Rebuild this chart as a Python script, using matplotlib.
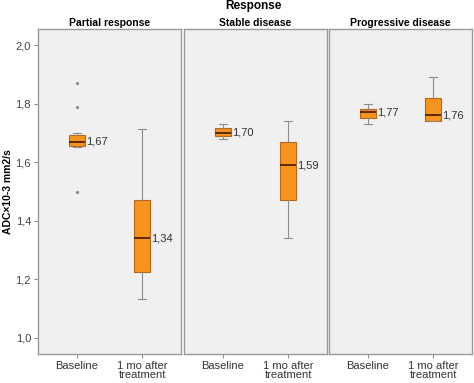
import matplotlib
matplotlib.use("Agg")
import matplotlib.pyplot as plt

plt.rcParams['font.family'] = ['Liberation Sans', 'DejaVu Sans']

# data
groups = ["Partial response", "Stable disease", "Progressive disease"]
timepoints = ["Baseline", "1 mo after\ntreatment"]
medians = [[1.67, 1.34], [1.70, 1.59], [1.77, 1.76]]
q1 = [[1.655, 1.225], [1.69, 1.47], [1.752, 1.74]]
q3 = [[1.693, 1.47], [1.717, 1.67], [1.782, 1.82]]
whis_lo = [[1.652, 1.133], [1.68, 1.34], [1.73, 1.74]]
whis_hi = [[1.70, 1.713], [1.73, 1.74], [1.80, 1.89]]
fliers = [[[1.87, 1.79, 1.50], []], [[], []], [[], []]]
median_labels = [["1,67", "1,34"], ["1,70", "1,59"], ["1,77", "1,76"]]
yticks = [1.0, 1.2, 1.4, 1.6, 1.8, 2.0]

fig = plt.figure(figsize=(4.74, 3.83), dpi=100)
lefts = [0.080, 0.388, 0.694]
width = 0.302
bottom, top = 0.076, 0.924

grey = '#8c8c8c'
for i, g in enumerate(groups):
    ax = fig.add_axes([lefts[i], bottom, width, top - bottom])
    ax.set_facecolor('#f0f0f0')
    stats = []
    for j in range(2):
        stats.append({'med': medians[i][j], 'q1': q1[i][j], 'q3': q3[i][j],
                      'whislo': whis_lo[i][j], 'whishi': whis_hi[i][j],
                      'fliers': fliers[i][j]})
    ax.bxp(stats, positions=[1, 2], widths=0.25, patch_artist=True,
           boxprops=dict(facecolor='#f7941d', edgecolor='#b5651d', linewidth=0.8),
           medianprops=dict(color='#5a2a00', linewidth=1.4),
           whiskerprops=dict(color=grey, linewidth=0.8),
           capprops=dict(color=grey, linewidth=0.8),
           flierprops=dict(marker='o', markersize=1.3, markerfacecolor=grey,
                           markeredgecolor=grey))
    # median value next to each box
    for j in range(2):
        ax.text(j + 1 + 0.135, medians[i][j], median_labels[i][j],
                fontsize=8, va='center', ha='left', color='#333333')
    ax.set_xlim(0.4, 2.6)
    ax.set_ylim(0.945, 2.055)
    ax.set_xticks([1, 2])
    ax.set_xticklabels(timepoints, fontsize=8, color='#333333', linespacing=0.9)
    ax.tick_params(axis='x', length=3, color=grey, pad=2)
    ax.set_yticks(yticks)
    if i == 0:
        ax.set_yticklabels([f"{t:.1f}".replace('.', ',') for t in yticks],
                           fontsize=8, color='#444444')
        ax.tick_params(axis='y', length=3, color=grey, pad=2)
        ax.set_ylabel("ADC×10-3 mm2/s", fontsize=7.5, fontweight='bold', labelpad=2)
    else:
        ax.tick_params(axis='y', left=False, labelleft=False)
    for s in ax.spines.values():
        s.set_color('#9a9a9a')
        s.set_linewidth(1.0)
    ax.set_title(g, fontsize=7.5, fontweight='bold', pad=2)

fig.text(0.535, 0.984, "Response", ha='center', va='center', fontsize=8.5,
         fontweight='bold')

fig.savefig("out.png", dpi=100)
